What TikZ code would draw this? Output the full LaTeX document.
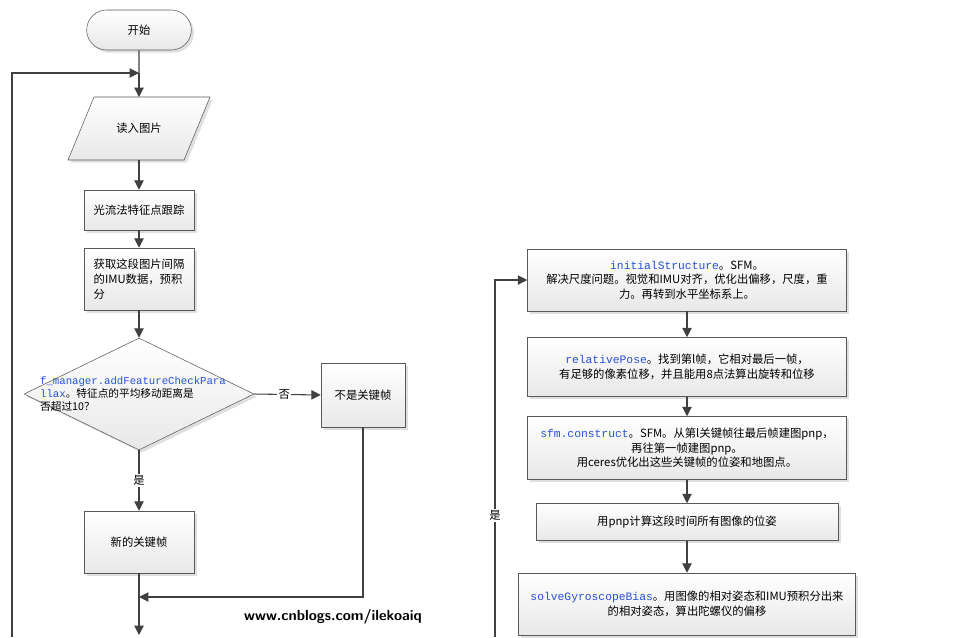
\documentclass[tikz,border=0pt]{standalone}
\usepackage{fontspec}
\setmainfont{Noto Sans CJK SC}
\newfontfamily\codef{Liberation Mono}
\usetikzlibrary{shapes.geometric,shapes.misc,arrows.meta,shadows}
\definecolor{codeblue}{RGB}{40,80,220}
\newcommand{\cd}[1]{{\codef\color{codeblue}#1}}
\begin{document}
\begin{tikzpicture}[x=0.75pt,y=-0.75pt,font=\fontsize{8.5}{11}\selectfont,
  box/.style={draw=gray!70!black,top color=white,bottom color=gray!18,drop shadow={opacity=0.25,shadow xshift=2pt,shadow yshift=-2pt},align=center,inner sep=2pt},
  ln/.style={draw=black!75,line width=0.8pt},
  ar/.style={ln,-{Triangle[length=7pt,width=7pt]}},
  lab/.style={fill=white,inner sep=1pt}]
\useasboundingbox (0,0) rectangle (956,637);
\node[box,rounded rectangle,minimum width=110*0.75pt,minimum height=40*0.75pt] (start) at (139,30) {开始};
\path[box] (94,97) -- (210,97) -- (184,160) -- (68,160) -- cycle;
\node (read) at (139,128) {读入图片};
\coordinate (readt) at (139,97);
\coordinate (readb) at (139,160);
\node[box,minimum width=110*0.75pt,minimum height=40*0.75pt] (flow) at (139,210) {光流法特征点跟踪};
\node[box,minimum width=110*0.75pt,minimum height=62*0.75pt,align=left] (imu) at (139,279) {获取这段图片间隔\\的IMU数据，预积\\分};
\node[box,diamond,aspect=2.05,minimum width=230*0.75pt,minimum height=112*0.75pt,inner sep=0pt] (dec) at (139,394) {};
\node[align=left,font=\fontsize{8}{10}\selectfont] (dect) at (133,394) {\cd{f\_manager.addFeatureCheckPara}\\\cd{llax}。特征点的平均移动距离是\\否超过10？};
\node[box,minimum width=84*0.75pt,minimum height=64*0.75pt] (notk) at (363,395) {不是关键帧};
\node[box,minimum width=110*0.75pt,minimum height=62*0.75pt] (newk) at (139,542) {新的关键帧};
\coordinate (lb) at (12,637);
\coordinate (lt) at (12,73);
\coordinate (lm) at (139,73);
\coordinate (m2) at (139,597);
\coordinate (c2) at (363,597);
\coordinate (bot) at (139,635);
\draw[ln] (start) -- (lm);
\draw[ar] (lb) -- (lt) -- (lm);
\draw[ar] (lm) -- (readt);
\draw[ar] (readb) -- (flow);
\draw[ar] (flow) -- (imu);
\draw[ar] (imu) -- (dec);
\draw[ar] (dec.east) -- node[lab,pos=0.45]{否} (notk.west);
\draw[ar] (dec.south) -- node[lab,pos=0.5]{是} (newk.north);
\draw[ar] (notk.south) -- (c2) -- (m2);
\draw[ar] (newk.south) -- (bot);
\node[font=\bfseries\sffamily\fontsize{11}{13}\selectfont] (wm) at (333,617) {www.cnblogs.com/ilekoaiq};
% right column
\node[box,minimum width=319*0.75pt,minimum height=62*0.75pt] (is) at (687,280) {\cd{initialStructure}。SFM。\\解决尺度问题。视觉和IMU对齐，优化出偏移，尺度，重\\力。再转到水平坐标系上。};
\node[box,minimum width=319*0.75pt,minimum height=59*0.75pt] (rp) at (687,367) {\cd{relativePose}。找到第l帧，它相对最后一帧，\\有足够的像素位移，并且能用8点法算出旋转和位移};
\node[box,minimum width=319*0.75pt,minimum height=63*0.75pt] (sfm) at (687,448) {\cd{sfm.construct}。SFM。从第l关键帧往最后帧建图pnp，\\再往第一帧建图pnp。\\用ceres优化出这些关键帧的位姿和地图点。};
\node[box,minimum width=302*0.75pt,minimum height=37*0.75pt] (pnp) at (687,522) {用pnp计算这段时间所有图像的位姿};
\node[box,minimum width=337*0.75pt,minimum height=62*0.75pt] (gyro) at (687,604) {\cd{solveGyroscopeBias}。用图像的相对姿态和IMU预积分出来\\的相对姿态，算出陀螺仪的偏移};
\coordinate (rb) at (495,637);
\coordinate (rt) at (495,280);
\draw[ar] (rb) -- node[lab,pos=0.34]{是} (rt) -- (is.west);
\draw[ar] (is) -- (rp);
\draw[ar] (rp) -- (sfm);
\draw[ar] (sfm) -- (pnp);
\draw[ar] (pnp) -- (gyro);
\end{tikzpicture}
\end{document}
